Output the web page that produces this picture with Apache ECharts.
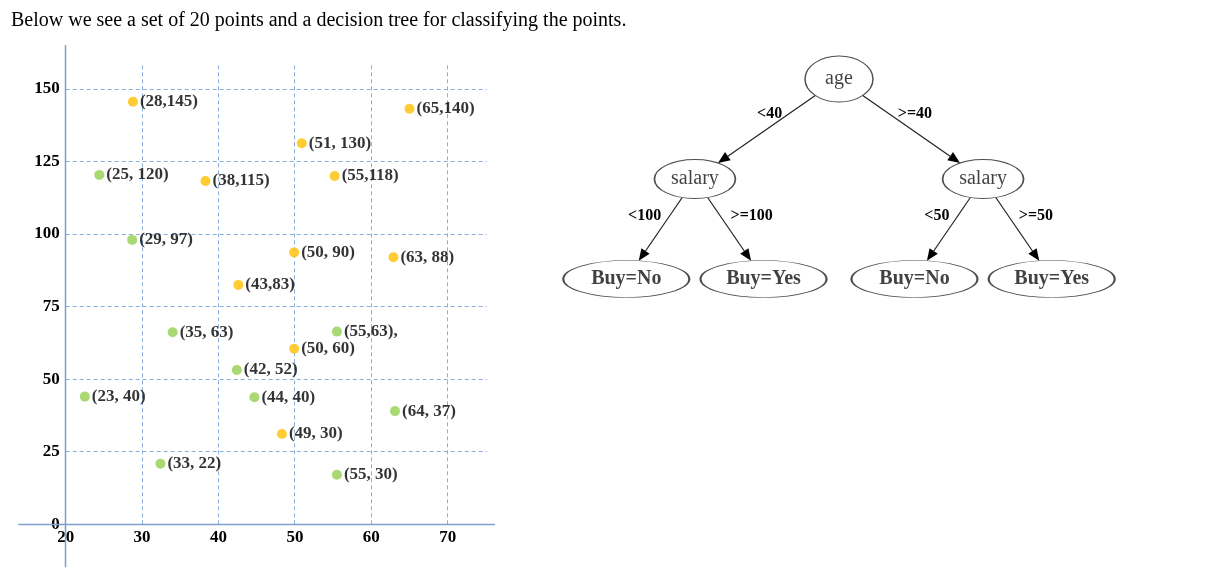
<!DOCTYPE html>
<html><head><meta charset="utf-8">
<script src="https://cdn.jsdelivr.net/npm/echarts@6/dist/echarts.min.js"></script>
<style>html,body{margin:0;padding:0;background:#fff}#c{width:1217px;height:580px}</style>
</head><body><div id="c"></div>
<script>
// ---------------- data ----------------
const TITLE = 'Below we see a set of 20 points and a decision tree for classifying the points.';

const orangeX = [28.8, 65.0, 50.9, 38.3, 55.2, 49.9, 62.9, 42.6, 49.9, 48.3];
const orangeY = [145.6, 143.2, 131.3, 118.3, 120.0, 93.7, 92.0, 82.5, 60.5, 31.1];
const orangeLabels = ['(28,145)', '(65,140)', '(51, 130)', '(38,115)', '(55,118)', '(50, 90)', '(63, 88)', '(43,83)', '(50, 60)', '(49, 30)'];

const greenX = [24.4, 28.7, 34.0, 55.5, 42.4, 22.5, 44.7, 63.1, 32.4, 55.5];
const greenY = [120.4, 98.0, 66.2, 66.4, 53.2, 44.0, 43.8, 39.0, 20.9, 17.1];
const greenLabels = ['(25, 120)', '(29, 97)', '(35, 63)', '(55,63),', '(42, 52)', '(23, 40)', '(44, 40)', '(64, 37)', '(33, 22)', '(55, 30)'];

const xTicks = [20, 30, 40, 50, 60, 70];
const yTicks = [0, 25, 50, 75, 100, 125, 150];

const treeNames = ['age', 'salary', 'salary', 'Buy=No', 'Buy=Yes', 'Buy=No', 'Buy=Yes'];
const treeParent = [-1, 0, 0, 1, 1, 2, 2];
const edgeLabels = ['', '<40', '>=40', '<100', '>=100', '<50', '>=50'];

// ---------------- layout helpers ----------------
const SERIF = '"Liberation Serif", "Times New Roman", serif';
const X_MIN = 20, X_MAX = 70, Y_MIN = 0, Y_MAX = 150;
const AXIS_X_FROM = 13.8, AXIS_X_TO = 76.2, AXIS_Y_FROM = -14.8, AXIS_Y_TO = 165.2;
const GRID_TOP = 158.3, GRID_RIGHT = 75.1;
const AXIS_COLOR = '#7E9FCB', GRID_COLOR = '#8AAEDC';

// tree structure -> depth and horizontal slot
const n = treeNames.length;
const children = treeNames.map(() => []);
treeParent.forEach((p, i) => { if (p >= 0) children[p].push(i); });
const depth = treeNames.map(() => 0);
(function setDepth(i, d) { depth[i] = d; children[i].forEach(c => setDepth(c, d + 1)); })(0, 0);
const slot = treeNames.map(() => 0);
let cursor = 0;
(function place(i) {
  if (!children[i].length) { slot[i] = cursor; cursor += 1; return; }
  children[i].forEach((c, k) => { if (k > 0 && depth[i] === 0) cursor += 0.1; place(c); });
  slot[i] = children[i].reduce((s, c) => s + slot[c], 0) / children[i].length;
})(0);
const isLeaf = i => children[i].length === 0;
function nodeSize(i) {
  if (depth[i] === 0) return [68, 46];
  if (isLeaf(i)) return [126, 37];
  return [81, 39];
}
const edgeList = [];
for (let i = 0; i < n; i++) if (treeParent[i] >= 0) edgeList.push(i);

// grid and axis segments built from the tick arrays
const gridSegs = [];
xTicks.filter(v => v !== X_MIN).forEach(v => gridSegs.push([v, Y_MIN, v, GRID_TOP]));
yTicks.filter(v => v !== Y_MIN).forEach(v => gridSegs.push([X_MIN, v, GRID_RIGHT, v]));
const axisSegs = [[AXIS_X_FROM, Y_MIN, AXIS_X_TO, Y_MIN], [X_MIN, AXIS_Y_FROM, X_MIN, AXIS_Y_TO]];

const snap = v => Math.round(v - 0.5) + 0.5;
function segSeries(segs, color, width, dash) {
  return {
    type: 'custom', xAxisIndex: 0, yAxisIndex: 0, silent: true, z: 1,
    data: segs,
    renderItem: function (params, api) {
      const a = api.coord([api.value(0), api.value(1)]);
      const b = api.coord([api.value(2), api.value(3)]);
      let x1 = a[0], y1 = a[1], x2 = b[0], y2 = b[1];
      if (Math.abs(y1 - y2) < 0.01) { y1 = y2 = snap(y1); } else { x1 = x2 = snap(x1); }
      return { type: 'line', shape: { x1: x1, y1: y1, x2: x2, y2: y2 },
        style: { stroke: color, lineWidth: width, lineDash: dash } };
    }
  };
}

function pointSeries(xs, ys, labels, color) {
  return {
    type: 'scatter', xAxisIndex: 0, yAxisIndex: 0, clip: false, z: 3,
    data: xs.map((x, i) => [x, ys[i]]),
    symbol: 'circle', symbolSize: 10,
    itemStyle: { color: color },
    label: {
      show: true, position: 'right', distance: 2,
      formatter: p => labels[p.dataIndex],
      fontFamily: SERIF, fontSize: 17, fontWeight: 'bold', color: '#000'
    }
  };
}

const chart = echarts.init(document.getElementById('c'));
chart.setOption({
  animation: false,
  backgroundColor: '#fff',
  title: {
    text: TITLE, left: 11, top: 11, padding: 0,
    textStyle: { fontFamily: SERIF, fontSize: 20, fontWeight: 'normal', color: '#000' }
  },
  grid: [
    { left: 65.7, right: 769.3, top: 89, bottom: 55.7, outerBoundsMode: 'none', containLabel: false },
    { left: 626.3, right: 165.3, top: 79, bottom: 301, outerBoundsMode: 'none', containLabel: false }
  ],
  xAxis: [
    {
      type: 'value', gridIndex: 0, min: X_MIN, max: X_MAX, interval: 10,
      axisLine: { show: false }, axisTick: { show: false }, splitLine: { show: false },
      axisLabel: { margin: 5, fontFamily: SERIF, fontSize: 17, fontWeight: 'bold', color: '#000',
        formatter: v => xTicks.indexOf(v) >= 0 ? String(v) : '' }
    },
    { type: 'value', gridIndex: 1, min: 0, max: 3.1, show: false }
  ],
  yAxis: [
    {
      type: 'value', gridIndex: 0, min: Y_MIN, max: Y_MAX, interval: 25,
      axisLine: { show: false }, axisTick: { show: false }, splitLine: { show: false },
      axisLabel: { margin: 6, fontFamily: SERIF, fontSize: 17, fontWeight: 'bold', color: '#000',
        formatter: v => yTicks.indexOf(v) >= 0 ? String(v) : '' }
    },
    { type: 'value', gridIndex: 1, min: 0, max: 2, inverse: true, show: false }
  ],
  series: [
    segSeries(gridSegs, GRID_COLOR, 1, [4, 3]),
    segSeries(axisSegs, AXIS_COLOR, 1.5, null),
    pointSeries(orangeX, orangeY, orangeLabels, '#FFC000'),
    pointSeries(greenX, greenY, greenLabels, '#92D050'),
    {
      type: 'custom', xAxisIndex: 1, yAxisIndex: 1, z: 2, silent: true,
      data: edgeList.map(c => [slot[c], depth[c]]),
      renderItem: function (params, api) {
        const c = edgeList[params.dataIndex];
        const p = treeParent[c];
        const P = api.coord([slot[p], depth[p]]);
        const C = api.coord([slot[c], depth[c]]);
        const dx = C[0] - P[0], dy = C[1] - P[1];
        const len = Math.hypot(dx, dy);
        const ux = dx / len, uy = dy / len;
        const rad = s => 1 / Math.sqrt(Math.pow(ux / (s[0] / 2), 2) + Math.pow(uy / (s[1] / 2), 2));
        const r1 = rad(nodeSize(p)), r2 = rad(nodeSize(c));
        const S = [P[0] + ux * r1, P[1] + uy * r1];
        const T = [C[0] - ux * r2, C[1] - uy * r2];
        const AL = 12, AW = 5;
        const B = [T[0] - ux * AL, T[1] - uy * AL];
        const nx = -uy, ny = ux;
        const ly = S[1] + 16;
        const tt = (ly - S[1]) / (T[1] - S[1]);
        const lx = S[0] + (T[0] - S[0]) * tt;
        const left = dx < 0;
        return {
          type: 'group',
          children: [
            { type: 'line', shape: { x1: S[0], y1: S[1], x2: B[0], y2: B[1] }, style: { stroke: '#222', lineWidth: 1.2 } },
            { type: 'polygon', shape: { points: [T, [B[0] + nx * AW, B[1] + ny * AW], [B[0] - nx * AW, B[1] - ny * AW]] }, style: { fill: '#000' } },
            { type: 'text', style: { text: edgeLabels[c], x: lx + (left ? -10 : 12), y: ly + 2,
              align: left ? 'right' : 'left', verticalAlign: 'middle',
              font: 'bold 16px ' + SERIF, fill: '#000' } }
          ]
        };
      }
    },
    {
      type: 'scatter', xAxisIndex: 1, yAxisIndex: 1, clip: false, z: 4, silent: true,
      data: treeNames.map((name, i) => ({
        value: [slot[i], depth[i]], name: name,
        symbolSize: nodeSize(i),
        label: { fontWeight: isLeaf(i) ? 'bold' : 'normal' }
      })),
      symbol: 'circle',
      itemStyle: { color: '#fff', borderColor: '#222', borderWidth: 1.2 },
      label: { show: true, position: 'inside', formatter: p => p.name,
        fontFamily: SERIF, fontSize: 20, color: '#111' }
    }
  ]
});
</script></body></html>
